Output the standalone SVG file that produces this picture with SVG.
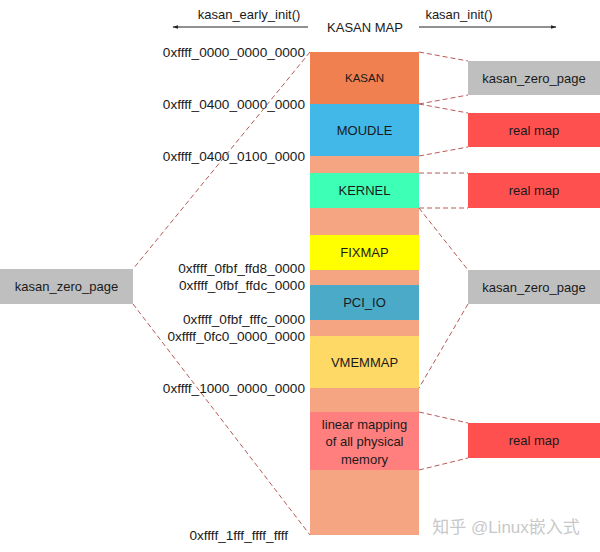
<svg xmlns="http://www.w3.org/2000/svg" width="600" height="552" viewBox="0 0 600 552">
<defs>
<marker id="ah" viewBox="0 0 10 10" refX="9" refY="5" markerWidth="6" markerHeight="6" orient="auto-start-reverse"><path d="M0,2 L10,5 L0,8 z" fill="#222"/></marker>
<style>
text{font-family:"Liberation Sans",Arial,sans-serif;font-size:13px;fill:#1a1a1a;dominant-baseline:central}
.c{text-anchor:middle}
.a{text-anchor:end;font-size:13.6px}
.d{stroke:#b85a5a;stroke-width:1;stroke-dasharray:5,3;fill:none}
.s{fill:#f5a582}
.g{fill:#bfbfbf}
.r{fill:#ff5050}
</style>
</defs>
<rect width="600" height="552" fill="#fff"/>
<g id="header">
<line x1="308" y1="27" x2="173" y2="27" stroke="#222" stroke-width="1" marker-end="url(#ah)"/>
<line x1="419" y1="27" x2="556" y2="27" stroke="#222" stroke-width="1" marker-end="url(#ah)"/>
<text x="249" y="14" class="c">kasan_early_init()</text>
<text x="365" y="27" class="c">KASAN MAP</text>
<text x="459" y="14" class="c">kasan_init()</text>
</g>
<g id="map">
<rect x="310" y="52" width="109" height="483" class="s"/>
<g id="kasan"><rect x="310" y="52" width="109" height="52" fill="#f08050"/><text x="364.5" y="78" class="c" style="font-size:11.5px">KASAN</text></g>
<g id="moudle"><rect x="310" y="104" width="109" height="52" fill="#41b8e8"/><text x="364.5" y="130" class="c">MOUDLE</text></g>
<g id="kernel"><rect x="310" y="173" width="109" height="35" fill="#3dffb6"/><text x="364.5" y="190.5" class="c">KERNEL</text></g>
<g id="fixmap"><rect x="310" y="235" width="109" height="35" fill="#ffff00"/><text x="364.5" y="252.5" class="c">FIXMAP</text></g>
<g id="pci_io"><rect x="310" y="285" width="109" height="35" fill="#4baac8"/><text x="364.5" y="302.5" class="c">PCI_IO</text></g>
<g id="vmemmap"><rect x="310" y="336" width="109" height="52" fill="#ffd966"/><text x="364.5" y="362" class="c">VMEMMAP</text></g>
<g id="linear"><rect x="310" y="412" width="109" height="58" fill="#ff7f7f"/>
<text x="364.5" y="424" class="c">linear mapping</text>
<text x="364.5" y="441.5" class="c">of all physical</text>
<text x="364.5" y="459" class="c">memory</text></g>
</g>
<g id="addresses">
<text x="305" y="52" class="a">0xffff_0000_0000_0000</text>
<text x="305" y="104" class="a">0xffff_0400_0000_0000</text>
<text x="305" y="156" class="a">0xffff_0400_0100_0000</text>
<text x="305" y="268" class="a">0xffff_0fbf_ffd8_0000</text>
<text x="305" y="285" class="a">0xffff_0fbf_ffdc_0000</text>
<text x="305" y="319" class="a">0xffff_0fbf_fffc_0000</text>
<text x="305" y="336" class="a">0xffff_0fc0_0000_0000</text>
<text x="305" y="388" class="a">0xffff_1000_0000_0000</text>
<text x="288" y="535" class="a">0xffff_1fff_ffff_ffff</text>
</g>
<g id="zero_left"><rect x="0" y="269" width="133" height="35" class="g"/><text x="66.5" y="286.5" class="c">kasan_zero_page</text></g>
<g id="zero_top"><rect x="468" y="61" width="132" height="34" class="g"/><text x="534" y="78" class="c">kasan_zero_page</text></g>
<g id="real1"><rect x="468" y="113" width="132" height="34" class="r"/><text x="534" y="130" class="c">real map</text></g>
<g id="real2"><rect x="468" y="173" width="132" height="35" class="r"/><text x="534" y="190.5" class="c">real map</text></g>
<g id="zero_mid"><rect x="468" y="270" width="132" height="34" class="g"/><text x="534" y="287" class="c">kasan_zero_page</text></g>
<g id="real3"><rect x="468" y="423" width="132" height="35" class="r"/><text x="534" y="440.5" class="c">real map</text></g>
<g id="connectors">
<path class="d" d="M310,52 L133,269"/>
<path class="d" d="M133,304 L310,535"/>
<path class="d" d="M419,52 L468,61"/>
<path class="d" d="M419,104 L468,95"/>
<path class="d" d="M419,104 L468,113"/>
<path class="d" d="M419,156 L468,147"/>
<path class="d" d="M419,173 L468,173"/>
<path class="d" d="M419,208 L468,208"/>
<path class="d" d="M419,208 L468,270"/>
<path class="d" d="M468,304 L419,388"/>
<path class="d" d="M419,412 L468,423"/>
<path class="d" d="M419,470 L468,458"/>
</g>
<text x="506" y="527" class="c" style="fill:#c8c8c8;font-size:17px;font-family:'Liberation Sans','Noto Sans CJK SC',sans-serif">知乎 @Linux嵌入式</text>
</svg>
